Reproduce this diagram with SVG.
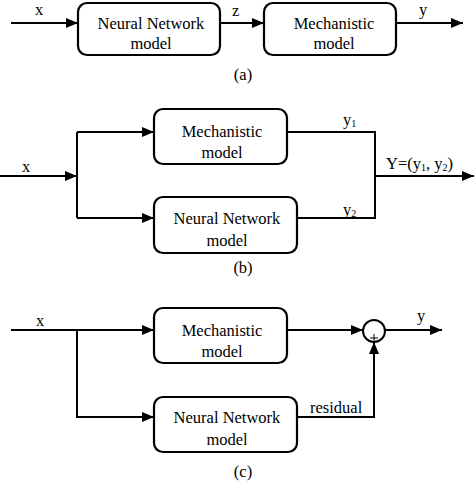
<svg xmlns="http://www.w3.org/2000/svg" width="474" height="481" viewBox="0 0 474 481" font-family="'Liberation Serif', 'Times New Roman', 'DejaVu Serif', serif">
<defs>
<marker id="ah" markerWidth="12" markerHeight="10" refX="12" refY="5" orient="auto" markerUnits="userSpaceOnUse">
<path d="M0,0 L12,5 L0,10 Z" fill="#000"/>
</marker>
<style>
.box{fill:#fff;stroke:#000;stroke-width:2.2}
.ln{fill:none;stroke:#000;stroke-width:2}
.t{font-family:'Liberation Serif','Times New Roman',serif;font-size:16.5px;fill:#000}
.c{text-anchor:middle}
.sub{font-size:10px}
</style>
</defs>
<rect width="474" height="481" fill="#fff"/>
<g id="connectors">
<line class="ln" x1="11" y1="23" x2="78" y2="23" marker-end="url(#ah)"/>
<line class="ln" x1="220" y1="23" x2="264" y2="23" marker-end="url(#ah)"/>
<line class="ln" x1="396" y1="23" x2="463" y2="23" marker-end="url(#ah)"/>
<line class="ln" x1="0" y1="176" x2="77" y2="176" marker-end="url(#ah)"/>
<polyline class="ln" points="77,132 77,218"/>
<line class="ln" x1="77" y1="132" x2="154" y2="132" marker-end="url(#ah)"/>
<line class="ln" x1="77" y1="218" x2="154" y2="218" marker-end="url(#ah)"/>
<polyline class="ln" points="287,132 375,132 375,218 297,218"/>
<line class="ln" x1="375" y1="176" x2="474" y2="176" marker-end="url(#ah)"/>
<line class="ln" x1="11" y1="330" x2="154" y2="330" marker-end="url(#ah)"/>
<polyline class="ln" points="77,330 77,417 154,417" marker-end="url(#ah)"/>
<line class="ln" x1="287" y1="330" x2="363" y2="330" marker-end="url(#ah)"/>
<polyline class="ln" points="297,417 374,417 374,342" marker-end="url(#ah)"/>
<line class="ln" x1="385" y1="330" x2="442" y2="330" marker-end="url(#ah)"/>
</g>
<g id="a-nn">
<rect class="box" x="78" y="3" width="142" height="52" rx="9"/>
<text class="t c" x="151" y="29">Neural Network</text>
<text class="t c" x="151" y="49">model</text>
</g>
<g id="a-mech">
<rect class="box" x="264" y="3" width="132" height="52" rx="9"/>
<text class="t c" x="334" y="29">Mechanistic</text>
<text class="t c" x="334" y="49">model</text>
</g>
<g id="b-mech">
<rect class="box" x="154" y="109" width="133" height="55" rx="9"/>
<text class="t c" x="222" y="137">Mechanistic</text>
<text class="t c" x="222" y="158">model</text>
</g>
<g id="b-nn">
<rect class="box" x="154" y="197" width="143" height="56" rx="9"/>
<text class="t c" x="227" y="224">Neural Network</text>
<text class="t c" x="227" y="246">model</text>
</g>
<g id="c-mech">
<rect class="box" x="154" y="308" width="133" height="55" rx="9"/>
<text class="t c" x="222" y="336">Mechanistic</text>
<text class="t c" x="222" y="357">model</text>
</g>
<g id="c-nn">
<rect class="box" x="154" y="397" width="143" height="55" rx="9"/>
<text class="t c" x="227" y="423">Neural Network</text>
<text class="t c" x="227" y="445">model</text>
</g>
<g id="sum">
<circle cx="374" cy="331" r="11" fill="#fff" stroke="#000" stroke-width="2"/>
<path d="M370,338 H378 M374,334 V342" stroke="#000" stroke-width="1"/>
</g>
<g id="labels">
<text class="t" x="35" y="15">x</text>
<text class="t" x="232" y="16">z</text>
<text class="t" x="419" y="15">y</text>
<text class="t c" x="243" y="80">(a)</text>
<text class="t" x="22" y="172">x</text>
<text class="t" x="343" y="125">y<tspan class="sub" dy="2">1</tspan></text>
<text class="t" x="343" y="215">y<tspan class="sub" dy="2">2</tspan></text>
<text class="t" x="386" y="169">Y=(y<tspan class="sub" dy="2">1</tspan><tspan dy="-2">, y</tspan><tspan class="sub" dy="2">2</tspan><tspan dy="-2">)</tspan></text>
<text class="t c" x="243" y="273">(b)</text>
<text class="t" x="36" y="326">x</text>
<text class="t" x="417" y="321">y</text>
<text class="t" x="310" y="413">residual</text>
<text class="t c" x="243" y="477">(c)</text>
</g>
</svg>
